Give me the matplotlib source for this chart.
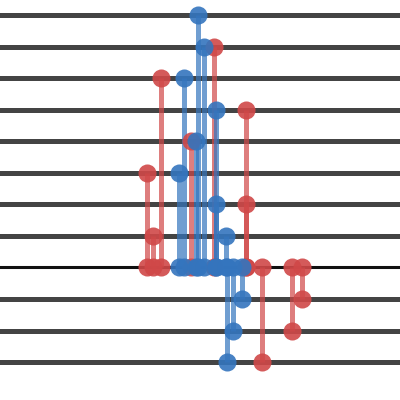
import matplotlib
matplotlib.use("Agg")
import matplotlib.pyplot as plt

# rows of the wire diagram, 0 = top; row 8 is the centre wire
n_rows = 12
centre_row = 8

# connections: x position and target row
red_x = [147, 153, 161, 191, 214, 246, 246, 262, 292, 302]
red_rows = [5, 7, 2, 4, 1, 3, 6, 11, 10, 9]

blue_x = [179, 184, 196, 198, 204, 216, 216, 226, 227, 233, 242]
blue_rows = [5, 2, 4, 0, 1, 3, 6, 7, 11, 10, 9]

red = "#d04848"
blue = "#3475be"

fig = plt.figure(figsize=(4, 4), dpi=100)
ax = fig.add_axes([0, 0, 1, 1])

for r in range(n_rows):
    if r == centre_row:
        ax.axhline(r, color="#111111", lw=2.2, zorder=1)
    else:
        ax.axhline(r, color="#444444", lw=3.6, zorder=1)

for xs, rows, c in [(red_x, red_rows, red), (blue_x, blue_rows, blue)]:
    for x, r in zip(xs, rows):
        ax.plot([x, x], [centre_row, r], color=c, lw=3.6, alpha=0.7,
                solid_capstyle="butt", zorder=2)
    for x, r in zip(xs, rows):
        ax.plot([x, x], [centre_row, r], "o", color=c, ms=13, mew=0,
                alpha=0.9, zorder=3)

ax.set_xlim(0, 400)
ax.set_ylim(12.2, -0.475)
ax.axis("off")

fig.savefig("out.png", dpi=100)
